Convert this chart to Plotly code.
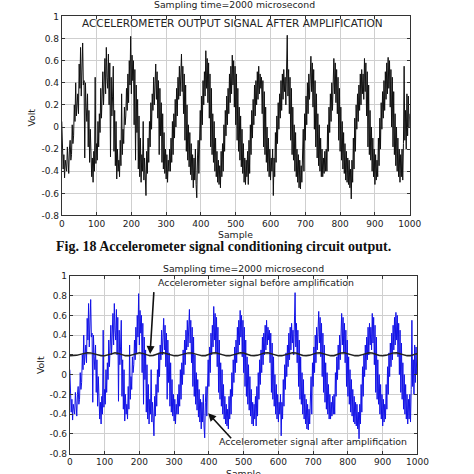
import numpy as np
import plotly.graph_objects as go

# ---------------- data ----------------
# amplified accelerometer output (every 2nd sample, 0..1000)
amplified = [
    # 0..88
    0.05, -0.28, -0.38, -0.25, -0.46, -0.30, -0.35, -0.40, -0.18, -0.33, -0.42, -0.20, -0.12, -0.30, -0.25,
    0.02, -0.15, -0.08, 0.20, 0.05, 0.40, 0.10, 0.22, 0.30, 0.12, 0.57, 0.35, 0.72, 0.28, 0.45, 0.76, 0.38,
    0.42, -0.28, 0.40, 0.18, 0.05, 0.30, -0.18, 0.15, -0.32, -0.02, -0.20, -0.45, -0.28,
    # 90..160
    -0.50, -0.22, -0.40, 0.45, -0.33, -0.15, -0.30, 0.05, -0.18, 0.12, -0.05, 0.35, 0.08, 0.28, 0.50, 0.20,
    0.42, 0.62, 0.30, 0.72, 0.45, 0.35, 0.66, 0.20, 0.58, -0.27, 0.45, 0.10, 0.28, 0.55, -0.22, 0.15, -0.35,
    0.05, -0.47, -0.20,
    # 162..238
    -0.40, -0.30, -0.45, -0.12, -0.35, 0.30, -0.25, -0.02, -0.15, 0.18, 0.02, 0.10, 0.35, 0.15, 0.48, 0.22,
    0.60, 0.38, 0.82, 0.30, 0.65, 0.42, 0.60, 0.02, 0.52, -0.30, 0.38, -0.05, 0.25, -0.38, 0.10, -0.45, -0.10,
    -0.50, -0.25, -0.40, 0.05, -0.48, -0.28,
    # 240..310
    -0.52, -0.62, -0.22, -0.42, -0.10, -0.32, 0.05, -0.18, 0.22, -0.02, 0.30, 0.15, 0.45, 0.20, 0.38, 0.57,
    0.25, 0.50, 0.08, 0.42, -0.25, 0.35, -0.08, 0.22, -0.32, 0.12, -0.38, -0.05, -0.42, -0.20, -0.47, -0.25,
    -0.50, -0.30, -0.40, -0.20,
    # 312..386
    -0.40, -0.10, -0.32, 0.05, -0.25, 0.12, -0.10, 0.25, 0.00, 0.35, 0.10, 0.45, 0.25, 0.55, 0.28, 0.48,
    0.66, 0.32, 0.55, 0.12, 0.48, -0.12, 0.38, -0.22, 0.20, -0.30, 0.02, -0.36, -0.05, -0.43, -0.15, -0.48,
    -0.25, -0.55, -0.28, -0.48, -0.20, -0.52,
    # 388..460
    -0.64, -0.28, -0.12, -0.42, -0.02, 0.15, -0.12, 0.28, 0.02, 0.42, 0.20, 0.50, 0.28, 0.69, 0.35, 0.62,
    0.22, 0.58, 0.08, 0.48, -0.18, 0.35, -0.25, 0.12, -0.32, 0.05, -0.40, -0.10, -0.45, -0.22, -0.50, -0.30,
    -0.52, -0.35, -0.55, -0.22, -0.45,
    # 462..536
    -0.15, -0.40, 0.02, -0.22, 0.15, -0.08, 0.28, 0.02, 0.35, 0.12, 0.48, 0.22, 0.55, 0.30, 0.65, 0.38,
    0.60, 0.18, 0.55, 0.02, 0.48, -0.12, 0.35, -0.22, 0.18, -0.30, 0.10, -0.36, -0.02, -0.42, -0.15, -0.50,
    -0.28, -0.52, -0.30, -0.45, -0.22, -0.52,
    # 538..610
    -0.12, -0.42, 0.02, -0.25, 0.15, -0.10, 0.25, 0.02, 0.38, 0.10, 0.42, 0.20, 0.50, 0.25, 0.55, 0.30,
    0.48, 0.35, 0.45, 0.12, 0.42, -0.18, 0.32, -0.25, 0.18, -0.32, 0.00, -0.40, -0.10, -0.45, -0.20, -0.48,
    -0.28, -0.40, -0.20, -0.62, -0.28,
    # 612..690
    -0.45, -0.05, -0.32, 0.10, -0.15, 0.22, -0.02, 0.30, 0.08, 0.42, 0.15, 0.48, 0.25, 0.52, 0.32, 0.45,
    0.20, 0.58, 0.83, 0.28, 0.52, 0.12, 0.45, -0.12, 0.35, -0.25, 0.18, -0.30, 0.02, -0.40, -0.05, -0.45,
    -0.20, -0.50, -0.25, -0.55, -0.30, -0.56, -0.35, -0.50,
    # 692..760
    -0.22, -0.02, -0.40, 0.12, -0.12, 0.28, 0.02, 0.40, 0.12, 0.48, 0.25, 0.55, 0.64, 0.32, 0.58, 0.18,
    0.52, -0.02, 0.42, -0.18, 0.30, -0.28, 0.12, -0.35, 0.02, -0.40, -0.10, -0.45, -0.20, -0.45, -0.28,
    -0.42, -0.22, -0.40, -0.20,
    # 762..834
    -0.40, 0.02, -0.22, 0.18, -0.05, 0.30, 0.05, 0.40, 0.15, 0.48, 0.62, 0.30, 0.58, 0.22, 0.52, 0.12,
    0.45, -0.12, 0.35, -0.22, 0.18, -0.30, 0.05, -0.38, -0.05, -0.42, -0.15, -0.48, -0.22, -0.50, -0.28,
    -0.52, -0.30, -0.55, -0.38, -0.65, -0.30,
    # 836..906
    -0.50, -0.10, -0.38, 0.08, -0.22, 0.20, -0.02, 0.30, 0.05, 0.38, 0.15, 0.48, 0.20, 0.52, 0.30, 0.48,
    0.25, 0.62, 0.32, 0.58, 0.10, 0.50, -0.18, 0.38, -0.25, 0.15, -0.30, 0.00, -0.40, -0.10, -0.45, -0.20,
    -0.52, -0.25, -0.48, -0.30,
    # 908..980
    -0.45, -0.10, -0.35, 0.08, -0.20, 0.22, -0.02, 0.32, 0.08, 0.42, 0.15, 0.50, 0.25, 0.58, 0.30, 0.63,
    0.35, 0.60, 0.18, 0.52, 0.00, 0.45, -0.18, 0.32, -0.25, 0.12, -0.35, 0.00, -0.40, -0.10, -0.45, -0.20,
    -0.50, -0.25, -0.45, -0.20, -0.48,
    # 982..1000
    -0.15, 0.55, -0.12, 0.15, -0.20, 0.30, -0.08, 0.28, 0.00, 0.12,
]

# signal before amplification (every 10th sample, 0..1000)
before_amp = [
    0.190, 0.190, 0.195, 0.205, 0.215, 0.222, 0.220, 0.210, 0.200, 0.192,
    0.190, 0.200, 0.215, 0.222, 0.215, 0.200, 0.190, 0.190, 0.200, 0.215,
    0.222, 0.215, 0.200, 0.190, 0.193, 0.205, 0.218, 0.222, 0.212, 0.198,
    0.190, 0.190, 0.198, 0.210, 0.220, 0.220, 0.208, 0.195, 0.190, 0.192,
    0.205, 0.218, 0.222, 0.210, 0.197, 0.190, 0.190, 0.200, 0.213, 0.222,
    0.218, 0.205, 0.193, 0.190, 0.195, 0.208, 0.220, 0.222, 0.212, 0.198,
    0.190, 0.190, 0.200, 0.213, 0.222, 0.218, 0.205, 0.193, 0.190, 0.195,
    0.208, 0.220, 0.222, 0.210, 0.197, 0.190, 0.192, 0.205, 0.218, 0.222,
    0.212, 0.198, 0.190, 0.190, 0.200, 0.213, 0.222, 0.218, 0.205, 0.193,
    0.190, 0.195, 0.208, 0.220, 0.222, 0.210, 0.197, 0.190, 0.192, 0.205,
    0.215,
]

x_ticks = [0, 100, 200, 300, 400, 500, 600, 700, 800, 900, 1000]
x_labels = ["0", "100", "200", "300", "400", "500", "600", "700", "800", "900", "1000"]
y_ticks = [-0.8, -0.6, -0.4, -0.2, 0, 0.2, 0.4, 0.6, 0.8, 1]
y_labels = ["-0.8", "-0.6", "-0.4", "-0.2", "0", "0.2", "0.4", "0.6", "0.8", "1"]

x_amp = np.linspace(0, 1000, len(amplified))
x_before = np.linspace(0, 1000, len(before_amp))

FONT = "DejaVu Sans"
W = H = 474

fig = go.Figure()
fig.add_trace(go.Scatter(x=x_amp, y=amplified, mode="lines",
                         line=dict(color="#101010", width=1.0), xaxis="x", yaxis="y"))
fig.add_trace(go.Scatter(x=x_amp, y=amplified, mode="lines",
                         line=dict(color="#1212e6", width=1.0), xaxis="x2", yaxis="y2"))
fig.add_trace(go.Scatter(x=x_before, y=before_amp, mode="lines",
                         line=dict(color="#222222", width=1.5), xaxis="x2", yaxis="y2"))

axis_common = dict(range=[0, 1000], tickvals=x_ticks, ticktext=x_labels,
                   showgrid=True, gridcolor="#cfcfcf", gridwidth=1,
                   showline=True, linecolor="#333333", linewidth=1, mirror="allticks",
                   ticks="inside", ticklen=3, tickcolor="#333333",
                   tickfont=dict(family=FONT, size=9, color="#222"), zeroline=False)
yaxis_common = dict(range=[-0.8, 1], tickvals=y_ticks, ticktext=y_labels,
                    showgrid=True, gridcolor="#cfcfcf", gridwidth=1,
                    showline=True, linecolor="#333333", linewidth=1, mirror="allticks",
                    ticks="inside", ticklen=3, tickcolor="#333333",
                    tickfont=dict(family=FONT, size=9, color="#222"), zeroline=False)

fig.update_layout(
    width=W, height=H, margin=dict(l=0, r=0, t=0, b=0),
    paper_bgcolor="white", plot_bgcolor="white", showlegend=False,
    xaxis=dict(axis_common, domain=[60.7 / W, 420 / W], anchor="y"),
    yaxis=dict(yaxis_common, domain=[1 - 215 / H, 1 - 11.7 / H], anchor="x"),
    xaxis2=dict(axis_common, domain=[69 / W, 428 / W], anchor="y2"),
    yaxis2=dict(yaxis_common, domain=[1 - 458.3 / H, 1 - 276.7 / H], anchor="x2"),
)

txt = dict(family=FONT, size=9.3, color="#222")
ann = [
    dict(text="Sampling time=2000 microsecond", x=239 / W, y=1 + 0.5 / H, xref="paper", yref="paper",
         showarrow=False, font=txt, xanchor="center", yanchor="middle"),
    dict(text="ACCELEROMETER OUTPUT SIGNAL AFTER AMPLIFICATION", x=237 / W, y=1 - 18 / H,
         xref="paper", yref="paper", showarrow=False, font=dict(family=FONT, size=10.5, color="#222"),
         xanchor="center", yanchor="middle"),
    dict(text="Volt", x=30 / W, y=1 - 115 / H, xref="paper", yref="paper", showarrow=False,
         font=txt, textangle=-90, xanchor="center", yanchor="middle"),
    dict(text="Sample", x=240 / W, y=1 - 234 / H, xref="paper", yref="paper", showarrow=False,
         font=txt, xanchor="center", yanchor="middle"),
    dict(text="<b>Fig. 18 Accelerometer signal conditioning circuit output.</b>", x=228 / W, y=1 - 247 / H,
         xref="paper", yref="paper", showarrow=False,
         font=dict(family="Liberation Serif", size=14, color="#111"), xanchor="center", yanchor="middle"),
    dict(text="Sampling time=2000 microsecond", x=248 / W, y=1 - 269 / H, xref="paper", yref="paper",
         showarrow=False, font=txt, xanchor="center", yanchor="middle"),
    dict(text="Volt", x=38 / W, y=1 - 368 / H, xref="paper", yref="paper", showarrow=False,
         font=txt, textangle=-90, xanchor="center", yanchor="middle"),
    dict(text="Sample", x=248 / W, y=1 - 479 / H, xref="paper", yref="paper", showarrow=False,
         font=txt, xanchor="center", yanchor="middle"),
    dict(text="Accelerometer signal before amplification", x=158 / W, y=1 - 283 / H,
         xref="paper", yref="paper", showarrow=False, font=dict(family=FONT, size=9.4, color="#222"),
         xanchor="left", yanchor="middle"),
    dict(text="Accelerometer signal after amplification", x=221 / W, y=1 - 446 / H,
         xref="paper", yref="paper", showarrow=False, font=dict(family=FONT, size=9.4, color="#222"),
         xanchor="left", yanchor="middle"),
    # arrows
    dict(x=231, y=0.21, ax=242, ay=0.85, xref="x2", yref="y2", axref="x2", ayref="y2",
         showarrow=True, arrowhead=2, arrowsize=1, arrowwidth=1.6, arrowcolor="#111", text=""),
    dict(x=398, y=-0.39, ax=468, ay=-0.66, xref="x2", yref="y2", axref="x2", ayref="y2",
         showarrow=True, arrowhead=2, arrowsize=1, arrowwidth=1.6, arrowcolor="#111", text=""),
]
fig.update_layout(annotations=ann)

fig.write_html("out.html")
